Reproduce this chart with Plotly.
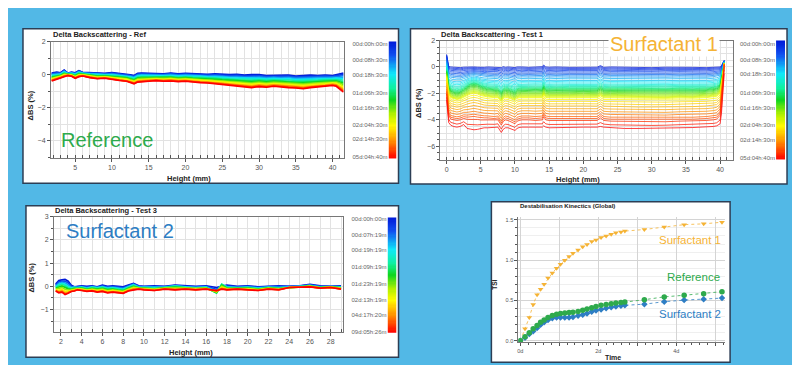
import plotly.graph_objects as go
from plotly.colors import sample_colorscale

W, H = 800, 365
def X(p): return p / W
def Y(p): return 1 - p / H

# ------------------------------------------------------------------ data
# Panel "Ref": first scan (blue) and last scan (red) profiles, dBS (%) vs height (mm)
ref_height = [1.8, 2.5, 3, 3.5, 4, 4.5, 5, 5.5, 6, 7, 8, 9, 10, 11, 12, 12.5, 13, 13.5, 14, 15, 16, 17, 18, 19,
              20, 21, 22, 23, 24, 25, 26, 27, 28, 29, 30, 31, 32, 33, 34, 35, 36, 37, 38, 39, 40, 40.5, 41, 41.5]
ref_first = [0.1, 0.15, 0.12, 0.28, 0.1, 0.15, 0.12, 0.25, 0.15, 0.12, 0.1, 0.08, 0.12, 0.08, 0.05, 0.0, -0.05, 0.08,
             0.1, 0.08, 0.05, 0.06, 0.1, 0.05, 0.08, 0.05, 0.06, 0.02, 0.05, 0.02, 0.0, 0.02, -0.02, 0.0, 0.0, -0.05,
             -0.03, -0.05, -0.02, -0.08, -0.05, -0.03, -0.05, -0.02, -0.05, 0.0, 0.05, 0.1]
ref_last = [-0.38, -0.3, -0.2, -0.12, -0.05, -0.1, -0.22, -0.12, -0.08, -0.18, -0.25, -0.22, -0.3, -0.35, -0.4, -0.48,
            -0.55, -0.45, -0.42, -0.4, -0.36, -0.4, -0.38, -0.42, -0.4, -0.45, -0.48, -0.5, -0.55, -0.6, -0.65, -0.7,
            -0.75, -0.78, -0.72, -0.76, -0.7, -0.75, -0.78, -0.8, -0.85, -0.78, -0.75, -0.72, -0.65, -0.7, -0.85, -1.05]
ref_key_pos = [0, 1]
ref_curve_pos = [0, 0.07, 0.14, 0.22, 0.3, 0.38, 0.46, 0.54, 0.62, 0.7, 0.77, 0.84, 0.9, 0.95, 1.0]
ref_time_labels = ["00d:00h:00m", "00d:08h:30m", "00d:18h:30m", "01d:06h:30m", "01d:16h:30m",
                   "02d:04h:30m", "02d:14h:30m", "05d:04h:40m"]

# Panel "Test 1" (Surfactant 1)
t1_height = [0, 0.15, 0.3, 0.6, 1, 1.5, 2, 2.5, 3, 3.5, 4, 4.5, 5, 5.5, 6, 7, 7.5, 8, 8.3, 8.6, 9, 10, 10.3, 10.6,
             11, 12, 13, 14, 14.2, 14.5, 15, 16, 18, 20, 22, 22.5, 23, 24, 26, 28, 30, 32, 34, 36, 38, 39, 39.5, 40,
             40.2, 40.4, 40.6]
t1_first = [0.95, 0.5, 0.05, 0.0, -0.02, 0.0, -0.05, -0.02, 0.0, -0.03, 0.0, -0.02, -0.05, -0.03, 0.0, -0.02, 0.0,
            -0.05, 0.02, -0.03, 0.0, -0.05, 0.0, -0.02, 0.0, -0.03, 0.0, 0.02, 0.15, 0.0, -0.02, 0.0, -0.03, 0.0,
            -0.02, 0.1, -0.03, 0.0, -0.02, 0.0, -0.05, -0.02, 0.0, -0.03, -0.05, -0.02, 0.0, 0.0, 0.1, 0.3, 0.5]
t1_green = [-0.3, -1.0, -1.5, -1.75, -1.85, -1.9, -1.85, -1.7, -1.5, -1.35, -1.3, -1.35, -1.5, -1.6, -1.65, -1.7,
            -1.72, -1.95, -1.75, -1.7, -1.72, -1.9, -1.75, -1.72, -1.7, -1.7, -1.68, -1.7, -1.5, -1.7, -1.72, -1.7,
            -1.72, -1.7, -1.72, -1.6, -1.72, -1.7, -1.72, -1.75, -1.75, -1.74, -1.72, -1.74, -1.7, -1.65, -1.6, -1.4,
            -1.0, -0.4, 0.3]
t1_red = [-2.0, -3.0, -3.6, -3.9, -3.95, -4.0, -3.95, -3.85, -3.9, -3.9, -3.85, -3.9, -3.95, -3.95, -3.95, -4.0,
          -3.95, -4.35, -4.05, -3.95, -4.0, -4.25, -4.05, -4.0, -3.95, -3.95, -4.0, -3.95, -3.7, -3.95, -4.0, -4.0,
          -4.0, -4.0, -4.0, -3.8, -4.0, -4.05, -4.05, -4.1, -4.1, -4.1, -4.05, -4.05, -4.0, -3.95, -3.9, -3.6, -2.6,
          -1.2, 0.2]
t1_last = [-2.5, -3.6, -4.2, -4.4, -4.5, -4.55, -4.5, -4.35, -4.65, -4.7, -4.75, -4.72, -4.65, -4.6, -4.6, -4.58,
           -4.55, -4.95, -4.7, -4.6, -4.6, -4.8, -4.65, -4.58, -4.55, -4.55, -4.55, -4.55, -4.45, -4.55, -4.6, -4.58,
           -4.55, -4.55, -4.55, -4.5, -4.55, -4.6, -4.65, -4.65, -4.65, -4.62, -4.6, -4.58, -4.55, -4.5, -4.45, -4.3,
           -3.5, -2.0, -0.5]
t1_key_level = [0, -1.7, -4.0, -4.6]
t1_curve_level = [0, -0.08, -0.16, -0.25, -0.35, -0.45, -0.55, -0.65, -0.75, -0.87, -1.0, -1.1, -1.2, -1.3, -1.38,
                  -1.46, -1.54, -1.6, -1.66, -1.72, -1.78, -1.85, -1.92, -2.0, -2.07, -2.14, -2.2, -2.26, -2.32,
                  -2.45, -2.6, -2.78, -2.95, -3.15, -3.35, -3.55, -3.75, -3.9, -4.05, -4.35, -4.6]

# Panel "Test 3" (Surfactant 2)
t3_height = [1.5, 1.8, 2.1, 2.4, 2.7, 3.0, 3.3, 3.6, 4, 4.5, 5, 5.5, 6, 6.5, 7, 7.5, 8, 8.5, 9, 9.5, 10, 11, 12, 13,
             14, 15, 16, 17, 17.5, 18, 19, 20, 21, 22, 23, 24, 25, 26, 27, 28, 29]
t3_first = [0.1, 0.25, 0.28, 0.3, 0.22, 0.05, -0.02, 0.0, 0.02, 0.0, 0.02, -0.02, 0.05, 0.0, 0.02, 0.0, -0.02, 0.05,
            0.12, 0.02, 0.0, 0.02, 0.0, 0.05, 0.02, 0.0, 0.02, -0.05, 0.0, 0.05, 0.0, 0.02, -0.02, 0.0, 0.02, 0.0,
            0.02, 0.08, 0.02, 0.0, 0.02]
t3_mid = [-0.05, 0.05, 0.1, 0.05, -0.05, -0.1, -0.05, -0.08, -0.05, -0.1, -0.05, -0.08, -0.05, -0.1, -0.08, -0.12,
          -0.15, -0.05, 0.05, -0.05, -0.05, -0.08, -0.05, 0.0, -0.05, -0.08, -0.05, -0.3, 0.1, -0.05, -0.08, -0.05,
          -0.1, -0.05, -0.08, -0.05, -0.02, 0.02, -0.05, -0.02, -0.05]
t3_last = [-0.2, -0.28, -0.25, -0.35, -0.3, -0.22, -0.2, -0.15, -0.18, -0.22, -0.2, -0.25, -0.22, -0.28, -0.25,
           -0.28, -0.3, -0.2, -0.15, -0.12, -0.15, -0.18, -0.12, -0.15, -0.12, -0.15, -0.12, -0.18, -0.12, -0.15,
           -0.12, -0.15, -0.18, -0.12, -0.15, -0.05, -0.05, -0.02, -0.08, -0.05, -0.12]
t3_key_pos = [0, 0.5, 1]
t3_curve_pos = [0, 0.15, 0.3, 0.42, 0.52, 0.62, 0.72, 0.82, 0.9, 0.96, 1.0]
t3_time_labels = ["00d:00h:00m", "00d:07h:19m", "00d:19h:19m", "01d:09h:19m", "01d:23h:19m",
                  "02d:13h:19m", "04d:17h:20m", "09d:05h:26m"]

# Destabilisation kinetics (TSI vs time in days)
kin_time = [0, 0.12, 0.23, 0.33, 0.43, 0.52, 0.61, 0.71, 0.82, 0.93, 1.03, 1.14, 1.25, 1.35, 1.48, 1.6, 1.71, 1.83,
            1.94, 2.07, 2.2, 2.33, 2.45, 2.58, 2.68, 3.18, 3.69, 4.2, 4.7, 5.17]
tsi_surf1 = [0.0, 0.15, 0.29, 0.45, 0.57, 0.64, 0.70, 0.78, 0.84, 0.90, 0.95, 1.0, 1.045, 1.085, 1.125, 1.165,
             1.195, 1.23, 1.25, 1.28, 1.30, 1.32, 1.34, 1.35, 1.36, 1.38, 1.41, 1.44, 1.45, 1.47]
tsi_ref = [0.0, 0.05, 0.10, 0.15, 0.19, 0.23, 0.26, 0.29, 0.315, 0.33, 0.34, 0.345, 0.35, 0.355, 0.365, 0.38, 0.395,
           0.41, 0.425, 0.44, 0.45, 0.46, 0.47, 0.475, 0.48, 0.51, 0.545, 0.565, 0.585, 0.61]
tsi_surf2 = [0.0, 0.04, 0.085, 0.12, 0.16, 0.20, 0.23, 0.26, 0.28, 0.29, 0.29, 0.29, 0.29, 0.295, 0.31, 0.325, 0.34,
             0.36, 0.375, 0.39, 0.405, 0.415, 0.425, 0.435, 0.44, 0.455, 0.485, 0.505, 0.515, 0.53]
time_ticks = [0, 1, 2, 3, 4, 5]
time_ticktext = ["0d", "", "2d", "", "4d", ""]

# ------------------------------------------------------------------ style
BG = "#52b8e6"
GRID = "#e2e2e2"
FONT = "Arial, Liberation Sans, sans-serif"
C_ORANGE = "#f5b335"
C_GREEN = "#2eaa4c"
C_BLUE = "#2e7ec4"
CS = [[0.0, "rgb(0,24,216)"], [0.12, "rgb(16,80,240)"], [0.28, "rgb(16,232,248)"], [0.4, "rgb(16,240,160)"],
      [0.5, "rgb(16,214,32)"], [0.62, "rgb(176,240,0)"], [0.72, "rgb(255,250,0)"], [0.85, "rgb(255,144,0)"],
      [1.0, "rgb(255,0,0)"]]


def family(key_pos, key_profiles, curve_pos):
    out = []
    for p in curve_pos:
        i = 0
        while i < len(key_pos) - 2 and p > key_pos[i + 1]:
            i += 1
        a, b = key_pos[i], key_pos[i + 1]
        w = (p - a) / (b - a)
        lo, hi = key_profiles[i], key_profiles[i + 1]
        out.append([u + w * (v - u) for u, v in zip(lo, hi)])
    return out


fig = go.Figure()


def add_family(xs, curves, xa, ya, width):
    n = len(curves)
    for k, ys in enumerate(curves):
        col = sample_colorscale(CS, [k / (n - 1)])[0]
        fig.add_trace(go.Scatter(x=xs, y=ys, mode="lines", line=dict(color=col, width=width),
                                 xaxis=xa, yaxis=ya, showlegend=False, hoverinfo="skip"))


add_family(ref_height, family(ref_key_pos, [ref_first, ref_last], ref_curve_pos), "x", "y", 1.6)
add_family(t1_height, family([-v for v in t1_key_level], [t1_first, t1_green, t1_red, t1_last],
                             [-v for v in t1_curve_level]), "x2", "y2", 0.75)
add_family(t3_height, family(t3_key_pos, [t3_first, t3_mid, t3_last], t3_curve_pos), "x3", "y3", 1.7)

fig.add_trace(go.Scatter(x=kin_time, y=tsi_surf1, mode="lines+markers", xaxis="x4", yaxis="y4",
                         line=dict(color=C_ORANGE, width=0.8, dash="dot"),
                         marker=dict(symbol="triangle-down", size=5, color=C_ORANGE), showlegend=False))
fig.add_trace(go.Scatter(x=kin_time, y=tsi_surf2, mode="lines+markers", xaxis="x4", yaxis="y4",
                         line=dict(color=C_BLUE, width=0.8, dash="dot"),
                         marker=dict(symbol="diamond", size=5, color=C_BLUE), showlegend=False))
fig.add_trace(go.Scatter(x=kin_time, y=tsi_ref, mode="lines+markers", xaxis="x4", yaxis="y4",
                         line=dict(color=C_GREEN, width=0.8, dash="dot"),
                         marker=dict(symbol="circle", size=5.5, color=C_GREEN), showlegend=False))

# colour bars drawn as thin heatmaps
steps = [i / 100 for i in range(101)]
for n in (5, 6, 7):
    fig.add_trace(go.Heatmap(z=[[s] for s in steps], y=steps, x=[0], colorscale=CS, zmin=0, zmax=1,
                             showscale=False, xaxis=f"x{n}", yaxis=f"y{n}", hoverinfo="skip"))

tick_font = dict(size=7, color="#555", family=FONT)


def prof_axes(n, xpx, ypx, xr, yr, xdtick, ydtick, yminor):
    sx = "" if n == 1 else str(n)
    xa = dict(domain=[X(xpx[0]), X(xpx[1])], range=xr, anchor="y" + sx, dtick=xdtick, tick0=0,
              showgrid=True, gridcolor=GRID, gridwidth=1,
              minor=dict(dtick=1, showgrid=True, gridcolor=GRID, ticks="inside", ticklen=3, tickcolor="#555"),
              showline=True, linecolor="#777", mirror=True, ticks="outside", ticklen=3, tickcolor="#555",
              tickfont=tick_font, zeroline=False)
    ya = dict(domain=[Y(ypx[1]), Y(ypx[0])], range=yr, anchor="x" + sx, dtick=ydtick, tick0=0,
              showgrid=True, gridcolor=GRID,
              minor=dict(dtick=yminor, showgrid=True, gridcolor=GRID, ticks="outside", ticklen=2, tickcolor="#555"),
              showline=True, linecolor="#777", mirror=True, ticks="outside", ticklen=3, tickcolor="#555",
              tickfont=tick_font, zeroline=False)
    return {"xaxis" + sx: xa, "yaxis" + sx: ya}


def cb_axes(n, xpx, ypx, labels, pos):
    xa = dict(domain=[X(xpx[0]), X(xpx[1])], range=[-0.5, 0.5], visible=False, anchor=f"y{n}")
    ya = dict(domain=[Y(ypx[1]), Y(ypx[0])], range=[1, 0], anchor=f"x{n}", side="left",
              tickvals=pos, ticktext=labels, ticks="", showgrid=False, zeroline=False, showline=False,
              tickfont=dict(size=6, color="#666", family=FONT))
    return {f"xaxis{n}": xa, f"yaxis{n}": ya}


layout_axes = {}
layout_axes.update(prof_axes(1, (42, 335), (30, 148), [1.7, 41.5], [-5, 2], 5, 2, 1))
layout_axes.update(prof_axes(2, (432, 725), (29, 150), [-0.9, 41.9], [-7, 2], 5, 2, 0.5))
layout_axes.update(prof_axes(3, (45, 334), (208, 325), [1.33, 29.15], [-1.95, 3.0], 2, 1, 0.5))
layout_axes.update(cb_axes(5, (380, 388), (30, 149), ref_time_labels,
                           [0.017, 0.16, 0.286, 0.437, 0.571, 0.714, 0.832, 0.983]))
layout_axes.update(cb_axes(6, (768, 777), (29, 150), ref_time_labels,
                           [0.025, 0.165, 0.28, 0.438, 0.562, 0.71, 0.835, 0.983]))
layout_axes.update(cb_axes(7, (379, 388), (209, 326), t3_time_labels,
                           [0.009, 0.154, 0.282, 0.427, 0.573, 0.718, 0.846, 0.991]))

layout_axes["xaxis4"] = dict(domain=[X(510), X(717)], range=[-0.05, 5.25], anchor="y4",
                             tickvals=time_ticks, ticktext=time_ticktext, showgrid=True, gridcolor="#d4d4d4",
                             minor=dict(dtick=0.2, ticks="outside", ticklen=2, tickcolor="#555"),
                             showline=True, linecolor="#777", ticks="outside", ticklen=3, tickcolor="#555",
                             tickfont=dict(size=5.5, color="#555", family=FONT), zeroline=False)
layout_axes["yaxis4"] = dict(domain=[Y(336), Y(208)], range=[-0.02, 1.54], anchor="x4",
                             tickvals=[0, 0.5, 1.0, 1.5], ticktext=["0.0", "0.5", "1.0", "1.5"],
                             showgrid=True, gridcolor="#d4d4d4",
                             minor=dict(dtick=0.1, showgrid=True, gridcolor="#efefef", ticks="outside", ticklen=2,
                                        tickcolor="#555"),
                             showline=True, linecolor="#777", ticks="outside", ticklen=3, tickcolor="#555",
                             tickfont=dict(size=5.5, color="#555", family=FONT), zeroline=False)

# white panels
shapes = []
for (x0, y0, x1, y1) in [(14, 17, 390, 174), (402, 17, 779, 175), (17, 197, 390, 351), (483, 193, 722, 356)]:
    shapes.append(dict(type="rect", xref="paper", yref="paper", x0=X(x0), x1=X(x1), y0=Y(y1), y1=Y(y0),
                       fillcolor="white", line=dict(color="#2c3e55", width=1.5), layer="below"))

annotations = []


def ann(text, x, y, size, color="#222", xanchor="left", angle=0, bg=None, bold=False):
    d = dict(text=("<b>%s</b>" % text) if bold else text, x=X(x), y=Y(y), xref="paper", yref="paper",
             xanchor=xanchor, yanchor="middle", showarrow=False, textangle=angle,
             font=dict(size=size, color=color, family=FONT))
    if bg:
        d["bgcolor"] = bg
    annotations.append(d)


ann("Delta Backscattering - Ref", 42, 23, 7.5, bold=True)
ann("Delta Backscattering - Test 1", 431, 23, 7.5, bold=True)
ann("Delta Backscattering - Test 3", 44, 202, 7.5, bold=True)
ann("Destabilisation Kinectics (Global)", 510, 197, 6, bold=True)

ann("Height (mm)", 180, 169, 7.5, xanchor="center", bold=True)
ann("Height (mm)", 570, 170, 7.5, xanchor="center", bold=True)
ann("Height (mm)", 182, 346, 7.5, xanchor="center", bold=True)
ann("Time", 605, 351, 7, xanchor="center", bold=True)
ann("ΔBS (%)", 21, 95, 7.5, xanchor="center", angle=-90, bold=True)
ann("ΔBS (%)", 410, 92, 7.5, xanchor="center", angle=-90, bold=True)
ann("ΔBS (%)", 23, 270, 7.5, xanchor="center", angle=-90, bold=True)
ann("TSI", 486, 277, 6.5, xanchor="center", angle=-90, bold=True)

ann("Reference", 50, 130, 20, C_GREEN)
ann("Surfactant 1", 600, 33, 20, C_ORANGE, bg="white")
ann("Surfactant 2", 55, 223, 20, C_BLUE)
ann("Surfactant 1", 682, 232, 11.5, C_ORANGE, xanchor="center")
ann("Reference", 685, 269, 11.5, C_GREEN, xanchor="center")
ann("Surfactant 2", 682, 307, 11.5, C_BLUE, xanchor="center")

fig.update_layout(width=W, height=H, margin=dict(l=0, r=0, t=0, b=0), paper_bgcolor=BG, plot_bgcolor="white",
                  shapes=shapes, annotations=annotations, showlegend=False, font=dict(family=FONT),
                  **layout_axes)

fig.write_html("out.html", config={"displayModeBar": False})
